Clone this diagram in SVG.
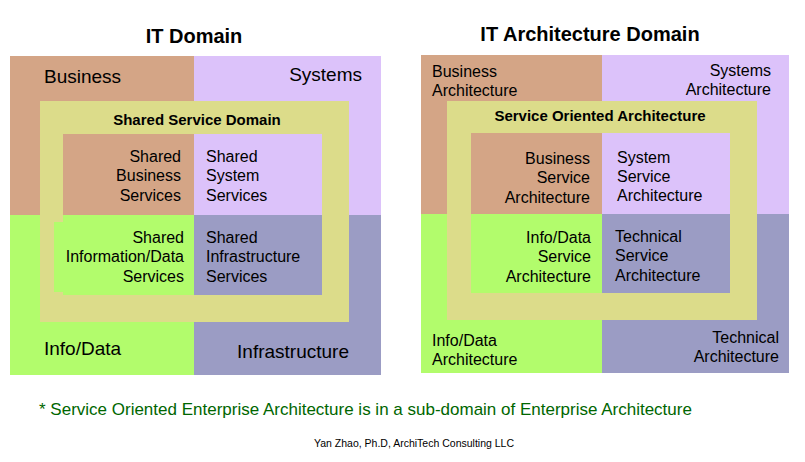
<svg xmlns="http://www.w3.org/2000/svg" width="805" height="462" viewBox="0 0 805 462">
<style>
text{font-family:"Liberation Sans",Arial,sans-serif;fill:#000}
.b{fill:#D4A586}.p{fill:#DCC2FA}.g{fill:#B2FC6C}.v{fill:#9B9CC4}.y{fill:#DCDC8A}
.t{font-size:20px;font-weight:bold}.l{font-size:19px}.m{font-size:16px}.h{font-size:15px;font-weight:bold}
</style>
<rect width="805" height="462" fill="#fff"/>
<text class="t" x="194" y="43" text-anchor="middle">IT Domain</text>
<text class="t" x="590" y="41" text-anchor="middle">IT Architecture Domain</text>
<g id="it-domain">
<rect class="b" x="10" y="56" width="184" height="159"/>
<rect class="p" x="194" y="56" width="187" height="159"/>
<rect class="g" x="10" y="215" width="184" height="160"/>
<rect class="v" x="194" y="215" width="187" height="160"/>
<rect class="y" x="40" y="101" width="309" height="221"/>
<rect class="b" x="63" y="134" width="131" height="81"/>
<rect class="p" x="194" y="134" width="128" height="81"/>
<rect class="g" x="54" y="222" width="140" height="70"/>
<rect class="g" x="63" y="215" width="131" height="80"/>
<rect class="v" x="194" y="215" width="128" height="80"/>
<text class="l" x="44" y="83">Business</text>
<text class="l" x="362" y="81" text-anchor="end">Systems</text>
<text class="l" x="44" y="355">Info/Data</text>
<text class="l" x="349" y="358" text-anchor="end">Infrastructure</text>
<text class="h" x="197" y="125" text-anchor="middle">Shared Service Domain</text>
<g class="m" text-anchor="end"><text x="181" y="162">Shared</text><text x="181" y="181">Business</text><text x="181" y="201">Services</text>
<text x="184" y="243">Shared</text><text x="184" y="262">Information/Data</text><text x="184" y="282">Services</text></g>
<g class="m"><text x="206" y="162">Shared</text><text x="206" y="181">System</text><text x="206" y="201">Services</text>
<text x="206" y="243">Shared</text><text x="206" y="262">Infrastructure</text><text x="206" y="282">Services</text></g>
</g>
<g id="it-arch-domain">
<rect class="b" x="421" y="55" width="181" height="159"/>
<rect class="p" x="602" y="55" width="187" height="159"/>
<rect class="g" x="421" y="214" width="181" height="159"/>
<rect class="v" x="602" y="214" width="187" height="159"/>
<rect class="y" x="447" y="101" width="310" height="219"/>
<rect class="b" x="471" y="133" width="131" height="81"/>
<rect class="p" x="602" y="133" width="128" height="81"/>
<rect class="g" x="471" y="214" width="131" height="79"/>
<rect class="v" x="602" y="214" width="128" height="79"/>
<g class="m"><text x="432" y="77">Business</text><text x="432" y="96">Architecture</text>
<text x="432" y="346">Info/Data</text><text x="432" y="365">Architecture</text></g>
<g class="m" text-anchor="end"><text x="771" y="76">Systems</text><text x="771" y="95">Architecture</text>
<text x="779" y="343">Technical</text><text x="779" y="362">Architecture</text></g>
<text class="h" x="600" y="121" text-anchor="middle">Service Oriented Architecture</text>
<g class="m" text-anchor="end"><text x="590" y="164">Business</text><text x="590" y="183">Service</text><text x="590" y="203">Architecture</text>
<text x="591" y="243">Info/Data</text><text x="591" y="262">Service</text><text x="591" y="282">Architecture</text></g>
<g class="m"><text x="617" y="163">System</text><text x="617" y="182">Service</text><text x="617" y="201">Architecture</text>
<text x="615" y="242">Technical</text><text x="615" y="261">Service</text><text x="615" y="281">Architecture</text></g>
</g>
<text x="39" y="415" font-size="17" fill="#006600" style="fill:#006600">* Service Oriented Enterprise Architecture is in a sub-domain of Enterprise Architecture</text>
<text x="414" y="447" font-size="10.5" text-anchor="middle">Yan Zhao, Ph.D, ArchiTech Consulting LLC</text>
</svg>
